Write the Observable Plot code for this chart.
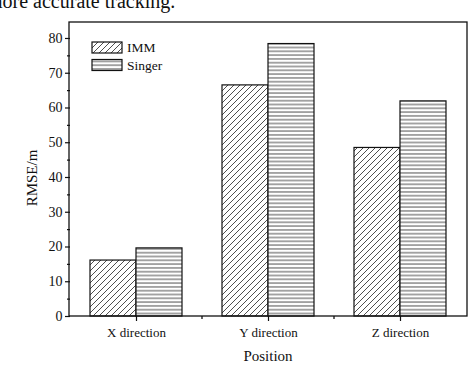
<!DOCTYPE html>
<html><head><meta charset="utf-8">
<script src="https://cdn.jsdelivr.net/npm/d3@7"></script>
<script src="https://cdn.jsdelivr.net/npm/@observablehq/plot@0.6"></script>
<style>
body{margin:0;background:#fff;width:474px;height:387px;overflow:hidden;position:relative;font-family:"Liberation Serif",serif}
#head{position:absolute;left:-13px;top:-9px;font-size:20px;line-height:1;white-space:nowrap;color:#111}
#chart{position:absolute;left:0;top:0}
#chart svg text{font-family:"Liberation Serif",serif}
</style></head><body>
<div id="head">more accurate tracking.</div>
<div id="chart"></div>
<script>
const categories = ["X direction", "Y direction", "Z direction"];
const series = ["IMM", "Singer"];
const immValues = [16.1, 66.5, 48.5];
const singerValues = [19.6, 78.4, 61.9];
const yTicks = [0, 10, 20, 30, 40, 50, 60, 70, 80];
const yMinorTicks = [5, 15, 25, 35, 45, 55, 65, 75];
const yMax = 84.6;

const data = categories.flatMap((c, i) => [
  {category: c, series: "IMM", value: immValues[i]},
  {category: c, series: "Singer", value: singerValues[i]}
]);

const W = 474, H = 387, mL = 69, mR = 7, mT = 22, mB = 71;
const ink = "#111";
const serif = '"Liberation Serif", serif';

const plot = Plot.plot({
  width: W, height: H, marginLeft: mL, marginRight: mR, marginTop: mT, marginBottom: mB,
  style: {fontFamily: serif, fontSize: "13px", color: ink, background: "transparent", overflow: "visible"},
  fx: {domain: categories, padding: 0, label: null},
  x: {domain: series, paddingInner: 0, paddingOuter: 0.41, axis: null},
  y: {domain: [0, yMax], label: null},
  color: {domain: series, range: ["url(#hatchIMM)", "url(#hatchSinger)"]},
  marks: [
    Plot.barY(data, {fx: "category", x: "series", y: "value", fill: "series", stroke: ink, strokeWidth: 1.2}),
    Plot.axisY({ticks: yTicks, tickSize: 5, tickPadding: 3, fontSize: "14px", fontFamily: serif, strokeWidth: 1.2, label: null}),
    Plot.axisY({ticks: yMinorTicks, tickSize: 3, text: null, label: null, strokeWidth: 1.2}),
    Plot.axisFx({anchor: "bottom", tickSize: 5, tickPadding: 6, fontSize: "13px", fontFamily: serif, strokeWidth: 1.2, label: null})
  ]
});

const svg = d3.select(plot);
const defs = svg.insert("defs", ":first-child");
const p1 = defs.append("pattern").attr("id", "hatchIMM").attr("patternUnits", "userSpaceOnUse")
  .attr("width", 6).attr("height", 6);
p1.append("rect").attr("width", 6).attr("height", 6).attr("fill", "#fff");
p1.append("path").attr("d", "M0,6L6,0M-1.5,1.5L1.5,-1.5M4.5,7.5L7.5,4.5").attr("stroke", "#222").attr("stroke-width", 0.8);
const p2 = defs.append("pattern").attr("id", "hatchSinger").attr("patternUnits", "userSpaceOnUse")
  .attr("width", 6).attr("height", 3.8);
p2.append("rect").attr("width", 6).attr("height", 3.8).attr("fill", "#fff");
p2.append("path").attr("d", "M0,1.9H6").attr("stroke", "#333").attr("stroke-width", 0.9);

// frame
const yS = plot.scale("y");
const yTop = yS.apply(yMax), yBottom = yS.apply(0);
const g = svg.append("g").attr("fill", "none").attr("stroke", ink).attr("stroke-width", 1.3);
g.append("rect").attr("x", mL).attr("y", yTop).attr("width", W - mL - mR).attr("height", yBottom - yTop);

// minor x ticks at category boundaries
const fx = plot.scale("fx");
categories.slice(1).forEach(c => {
  const xb = fx.apply(c);
  g.append("line").attr("x1", xb).attr("x2", xb).attr("y1", yBottom).attr("y2", yBottom + 3);
});

// axis titles
svg.append("text").attr("x", mL + (W - mL - mR) / 2).attr("y", yBottom + 45)
  .attr("text-anchor", "middle").attr("fill", ink)
  .style("font-size", "15px").style("font-family", serif).text("Position");
svg.append("text")
  .attr("transform", `translate(${mL - 32},${(yTop + yBottom) / 2 + 9}) rotate(-90)`)
  .attr("text-anchor", "middle").attr("fill", ink)
  .style("font-size", "15px").style("font-family", serif).text("RMSE/m");

// legend
const lg = svg.append("g").attr("transform", `translate(${mL + 23},${yTop + 20})`);
series.forEach((s, i) => {
  const row = lg.append("g").attr("transform", `translate(0,${i * 17.5})`);
  row.append("rect").attr("width", 30).attr("height", 11)
    .attr("fill", `url(#hatch${s})`).attr("stroke", ink).attr("stroke-width", 1.2);
  row.append("text").attr("x", 35).attr("y", 5.5).attr("dy", "0.35em")
    .attr("text-anchor", "start")
    .attr("fill", ink).style("font-size", "13.5px").style("font-family", serif).text(s);
});

document.getElementById("chart").append(plot);
</script>
</body></html>
